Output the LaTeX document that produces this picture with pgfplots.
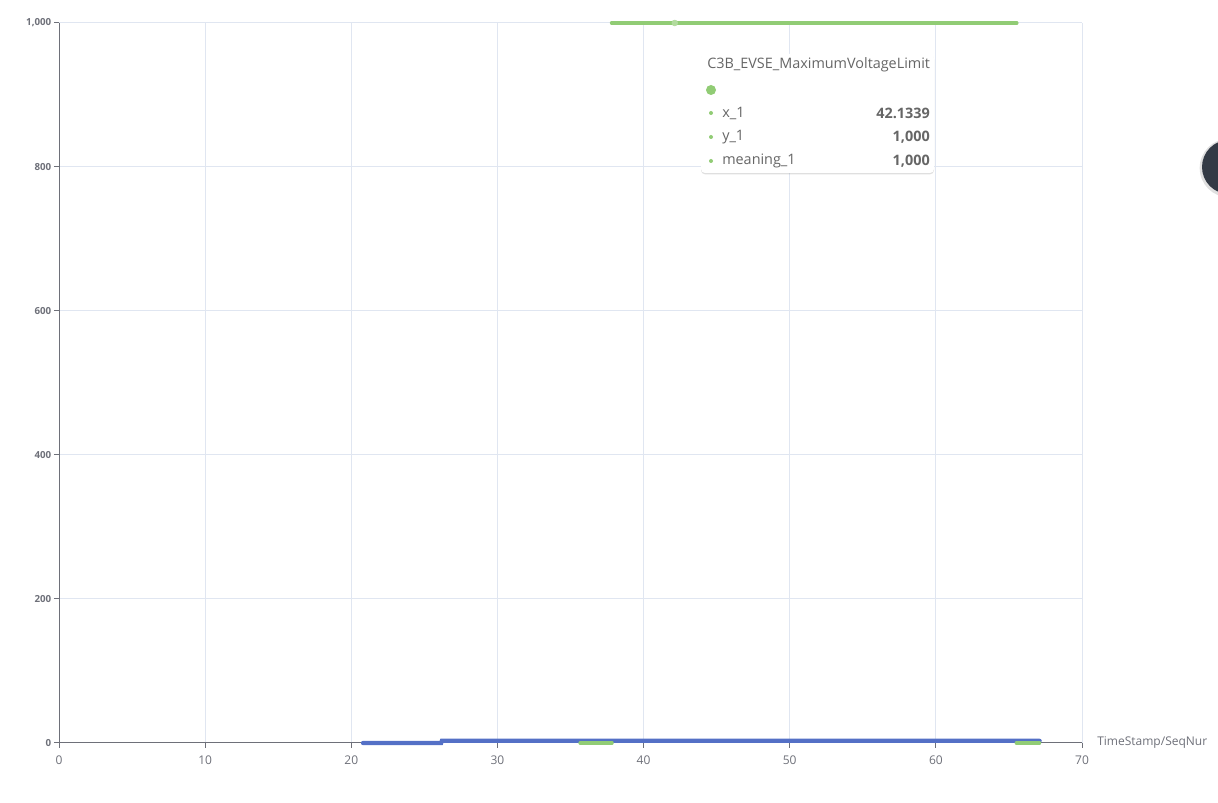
\documentclass[border=0pt]{standalone}
\usepackage{fontspec}
\setmainfont{Open Sans}
\usepackage{pgfplots}
\pgfplotsset{compat=1.18}
\usetikzlibrary{shadows}

\definecolor{ecblue}{HTML}{5470C6}
\definecolor{ecgreen}{HTML}{91CC75}
\definecolor{gridc}{HTML}{E0E6F1}
\definecolor{axisc}{HTML}{6E7079}
\definecolor{tipc}{HTML}{666666}
\definecolor{btnc}{HTML}{333A45}

% one pixel of the reference = 0.75pt, origin at the bottom-left
\newcommand{\px}[2]{({(#1)*0.75pt},{(803-#2)*0.75pt})}

\begin{document}
\begin{tikzpicture}
\path[use as bounding box] (0,0) rectangle (913.5pt,602.25pt);

\begin{axis}[
    at={(44.25pt,45pt)}, anchor=south west,
    scale only axis,
    width=767.25pt, height=540pt,
    xmin=0, xmax=70, ymin=0, ymax=1000,
    enlargelimits=false,
    clip=false,
    axis lines*=left,
    axis line style={draw=axisc, line width=0.75pt},
    xtick={0,10,...,70},
    ytick={0,200,...,1000},
    tick align=outside,
    major tick length=3.75pt,
    tick style={draw=axisc, line width=0.75pt},
    grid=major,
    major grid style={draw=gridc, line width=0.75pt},
    xticklabel style={font=\fontsize{9}{10}\selectfont, text=axisc, yshift=-2pt},
    yticklabel style={font=\bfseries\fontsize{7.3}{8}\selectfont, text=axisc, xshift=1.5pt},
    /pgf/number format/assume math mode=true,
    /pgf/number format/1000 sep={,},
]

% blue series
\addplot[ecblue, line width=3.2pt, line cap=round] coordinates {
    (20.8,0) (26.15,0) (26.2,3) (67.1,3)
};

% green series, three separate runs
\addplot[ecgreen, line width=2.4pt, line cap=round] coordinates {
    (35.65,0) (37.85,0)
};
\addplot[ecgreen, line width=2.4pt, line cap=round] coordinates {
    (37.8,1000) (65.55,1000)
};
\addplot[ecgreen, line width=2.4pt, line cap=round] coordinates {
    (65.5,0) (67.1,0)
};
% hovered point
\addplot[only marks, mark=*, mark size=2.2pt, mark options={fill=ecgreen!70, draw=ecgreen!70}] coordinates {(42.1339,1000)};

\node[anchor=west, font=\fontsize{9}{10}\selectfont, text=axisc, inner sep=0pt]
    at (axis cs:70,0) [xshift=11.25pt] {TimeStamp/SeqNur};
\end{axis}

% tooltip
\fill[white, rounded corners=3pt, drop shadow={opacity=0.25, shadow xshift=0pt, shadow yshift=-1pt}]
    \px{701}{54} rectangle \px{934}{173};
\node[anchor=west, inner sep=0pt, text=tipc, font=\fontsize{10.8}{12}\selectfont] at \px{707}{65} {C3B\_EVSE\_MaximumVoltageLimit};
\fill[ecgreen] \px{711}{90} circle (3.75pt);
\foreach \yy/\lab/\val in {113/x\_1/42.1339, 137/y\_1/{1,000}, 161/meaning\_1/{1,000}} {
    \fill[ecgreen] \px{711}{\yy} circle (1.5pt);
    \node[anchor=west, inner sep=0pt, text=tipc, font=\fontsize{10.8}{12}\selectfont] at \px{722}{\yy} {\lab};
    \node[anchor=east, inner sep=0pt, text=tipc, font=\bfseries\fontsize{10.8}{12}\selectfont] at \px{930}{\yy} {\val};
}

% dark round button cut by the right edge
\begin{scope}
\clip (0,0) rectangle (913.5pt,602.25pt);
\fill[black!12] \px{1229}{168} circle (22pt);
\fill[btnc] \px{1229}{167} circle (20.25pt);
\end{scope}
\end{tikzpicture}
\end{document}
